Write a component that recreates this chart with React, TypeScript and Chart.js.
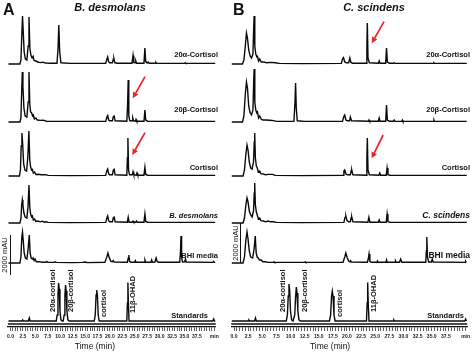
import React, { useEffect, useRef } from 'react';
import { Chart, registerables } from 'chart.js';
Chart.register(...registerables);

type Pt = [number, number]; // [time (min), signal above own baseline (mAU)]

// ---------- axis ticks ----------
const TICK_VALUES = [0, 2.5, 5, 7.5, 10, 12.5, 15, 17.5, 20, 22.5, 25, 27.5, 30, 32.5, 35, 37.5, 41];
const TICK_LABELS = ['0.0', '2.5', '5.0', '7.5', '10.0', '12.5', '15.0', '17.5', '20.0', '22.5', '25.0', '27.5', '30.0', '32.5', '35.0', '37.5', 'min'];

// ---------- trace names ----------
const A_LABELS = ['20α-Cortisol', '20β-Cortisol', 'Cortisol', 'B. desmolans', 'BHI media', 'Standards'];
const B_LABELS = ['20α-Cortisol', '20β-Cortisol', 'Cortisol', 'C. scindens', 'BHI media', 'Standards'];
const STD_PEAK_LABELS = ['20α-cortisol', '20β-cortisol', 'cortisol', '11β-OHAD'];
const SCALE_BAR_LABEL = '2000 mAU';
const SCALE_BAR_VALUE = 2000;

// ---------- panel A : B. desmolans ----------
const A_T20A: Pt[] = [[-0.4,0],[1.9,0],[2.1,200],[2.3,1600],[2.42,2400],[2.55,1700],[2.75,600],[3.0,250],[3.3,200],[3.55,900],[3.72,2350],[3.9,800],[4.1,450],[4.35,300],[4.55,380],[4.75,180],[5.1,150],[5.5,100],[6.0,70],[6.5,90],[7.0,50],[8.0,40],[9.35,40],[9.55,700],[9.72,1950],[9.9,600],[10.15,60],[12.0,30],[15.0,30],[17.5,30],[19.15,30],[19.4,250],[19.55,350],[19.75,120],[19.95,60],[20.5,60],[20.7,250],[20.8,280],[21.0,60],[21.5,40],[24.45,40],[24.65,430],[24.8,80],[25.05,60],[25.2,150],[25.35,40],[26.85,40],[27.04,800],[27.2,120],[27.5,50],[27.7,100],[27.9,40],[29.1,40],[29.25,80],[29.4,30],[35.0,30],[35.15,60],[35.3,30],[41.2,30]];
const A_T20B: Pt[] = [[-0.4,0],[1.9,0],[2.1,200],[2.25,1500],[2.38,2500],[2.5,1800],[2.7,700],[2.95,300],[3.3,250],[3.55,1000],[3.72,2500],[3.88,900],[4.05,500],[4.25,450],[4.45,300],[4.6,350],[4.8,150],[5.1,200],[5.4,100],[6.0,80],[6.6,90],[7.2,40],[9.0,30],[12.5,30],[16,30],[19.15,30],[19.4,250],[19.55,320],[19.75,100],[19.95,60],[20.5,60],[20.7,280],[20.85,300],[21.05,60],[23.4,40],[23.55,800],[23.68,2100],[23.8,300],[24.0,60],[24.45,60],[24.6,200],[24.75,60],[25.1,40],[25.25,130],[25.4,40],[26.85,40],[27.04,600],[27.2,100],[27.6,40],[41.2,30]];
const A_TCORT: Pt[] = [[-0.4,0],[1.8,0],[2.0,300],[2.15,1500],[2.3,2150],[2.45,1600],[2.65,600],[2.9,300],[3.25,250],[3.5,1000],[3.7,2250],[3.88,800],[4.05,450],[4.25,300],[4.4,330],[4.6,150],[4.85,200],[5.1,80],[5.6,90],[6.2,60],[7.0,70],[7.6,30],[12,20],[19.15,30],[19.4,280],[19.55,350],[19.75,120],[19.95,60],[20.5,60],[20.7,300],[20.85,330],[21.05,60],[23.4,40],[23.52,900],[23.62,1900],[23.75,300],[23.95,60],[24.5,60],[24.65,215],[24.8,60],[25.3,40],[25.45,150],[25.6,40],[26.85,40],[27.04,435],[27.2,80],[27.6,40],[41.2,30]];
const A_TSTRAIN: Pt[] = [[-0.4,0],[1.9,0],[2.1,200],[2.25,900],[2.38,1150],[2.5,900],[2.7,500],[2.95,300],[3.3,250],[3.52,800],[3.72,1900],[3.88,800],[4.05,450],[4.25,300],[4.4,350],[4.6,150],[4.85,200],[5.1,80],[5.5,100],[6.0,60],[6.4,90],[6.8,40],[7.2,60],[7.6,30],[12,20],[19.15,30],[19.4,250],[19.55,350],[19.75,120],[19.95,60],[20.5,60],[20.7,280],[20.85,300],[21.05,60],[23.5,40],[23.68,285],[23.85,40],[24.5,40],[24.65,100],[24.8,40],[25.2,40],[25.35,100],[25.5,40],[26.85,40],[27.04,450],[27.2,80],[27.6,40],[41.2,30]];
const A_TBHI: Pt[] = [[-0.4,0],[1.9,0],[2.1,300],[2.28,1300],[2.42,1550],[2.56,1150],[2.75,500],[3.0,250],[3.3,200],[3.55,700],[3.78,1400],[3.95,500],[4.15,250],[4.4,200],[4.55,250],[4.75,120],[4.95,200],[5.2,60],[5.8,70],[6.5,40],[7.1,40],[7.3,80],[7.5,30],[8.8,30],[9.0,60],[9.2,30],[12.5,20],[14.5,30],[15,50],[15.5,20],[19.0,40],[19.35,280],[19.6,500],[19.85,280],[20.2,80],[20.5,60],[20.65,120],[20.85,50],[23.5,40],[23.7,250],[23.82,400],[23.95,80],[24.2,40],[25.0,40],[25.12,120],[25.25,40],[26.9,40],[27.05,150],[27.2,40],[28.25,40],[28.4,150],[28.55,40],[29.05,50],[29.3,250],[29.5,80],[29.8,40],[34.05,40],[34.2,600],[34.3,1350],[34.42,300],[34.6,50],[35.05,60],[35.2,200],[35.35,50],[40.7,30],[40.85,80],[41.0,30],[41.2,30]];
const A_TSTD: Pt[] = [[-0.4,0],[2.3,0],[2.45,60],[2.6,0],[3.6,0],[3.78,150],[3.95,0],[9.2,0],[9.4,300],[9.55,1300],[9.68,1900],[9.8,1600],[9.95,500],[10.15,60],[10.4,0],[10.6,0],[10.8,300],[10.95,1300],[11.08,1800],[11.2,1500],[11.35,500],[11.55,60],[11.8,0],[16.85,0],[17.05,300],[17.22,1300],[17.35,1550],[17.48,1300],[17.65,300],[17.85,0],[23.4,0],[23.52,900],[23.62,1920],[23.72,900],[23.85,0],[40.7,0],[40.88,100],[41.05,0],[41.2,0]];

// ---------- panel B : C. scindens ----------
const B_T20A: Pt[] = [[-0.4,0],[1.5,0],[1.75,200],[2.0,900],[2.2,1550],[2.38,1300],[2.6,700],[2.85,400],[3.1,300],[3.35,500],[3.48,1800],[3.56,2400],[3.68,900],[3.85,500],[4.05,350],[4.15,380],[4.35,150],[4.55,250],[4.8,100],[5.3,100],[5.8,60],[6.5,80],[7.3,60],[8,30],[12,20],[19.0,30],[19.2,250],[19.38,320],[19.6,100],[19.9,60],[20.3,60],[20.5,300],[20.7,80],[21.0,40],[23.4,40],[23.52,900],[23.6,2050],[23.72,300],[23.95,60],[25.55,40],[25.7,150],[25.85,40],[26.85,40],[27.0,800],[27.15,100],[27.5,40],[28.2,40],[28.35,60],[28.5,30],[35.3,30],[35.4,60],[35.5,30],[41.2,30]];
const B_T20B: Pt[] = [[-0.4,0],[1.5,0],[1.75,300],[2.0,1400],[2.2,2000],[2.38,1700],[2.6,800],[2.85,450],[3.1,350],[3.35,600],[3.48,2000],[3.56,2650],[3.68,1000],[3.85,600],[4.05,450],[4.15,500],[4.35,200],[4.55,300],[4.8,150],[5.1,100],[5.6,100],[6.3,90],[7.0,70],[7.5,30],[10.6,30],[10.78,900],[10.9,1950],[11.02,700],[11.2,60],[12.5,30],[19.2,30],[19.45,280],[19.6,350],[19.8,100],[20.1,60],[20.45,60],[20.6,250],[20.8,60],[23.8,40],[23.9,100],[24.0,40],[25.55,40],[25.7,200],[25.85,40],[26.85,40],[27.0,850],[27.15,100],[27.5,40],[28.2,40],[28.35,100],[28.5,30],[29.7,30],[29.8,100],[29.9,30],[35.3,30],[35.4,100],[35.5,30],[41.2,30]];
const B_TCORT: Pt[] = [[-0.4,0],[1.6,0],[1.85,300],[2.1,1100],[2.3,1550],[2.48,1300],[2.7,700],[2.95,400],[3.2,350],[3.45,700],[3.58,1700],[3.66,2150],[3.78,900],[3.95,500],[4.12,400],[4.3,200],[4.55,250],[4.75,120],[5.2,100],[5.6,60],[6.0,80],[6.8,80],[7.3,30],[12,20],[19.3,30],[19.45,250],[19.6,300],[19.8,100],[20.1,60],[20.6,60],[20.75,280],[20.85,300],[21.05,60],[23.4,40],[23.52,900],[23.6,1900],[23.72,300],[23.95,60],[25.65,40],[25.8,150],[25.95,40],[26.95,40],[27.1,400],[27.25,60],[27.6,40],[41.2,30]];
const B_TSTRAIN: Pt[] = [[-0.4,0],[1.6,0],[1.85,250],[2.1,900],[2.3,1250],[2.48,1050],[2.7,600],[2.95,400],[3.2,300],[3.45,600],[3.58,1500],[3.66,2000],[3.78,900],[3.95,550],[4.12,400],[4.3,200],[4.55,250],[4.75,120],[5.2,100],[5.6,60],[6.0,100],[6.5,60],[7.0,60],[7.5,30],[12,20],[19.45,30],[19.65,280],[19.8,350],[20.0,120],[20.3,60],[20.6,60],[20.75,280],[20.85,300],[21.05,60],[23.7,40],[23.88,285],[24.05,40],[25.55,40],[25.7,150],[25.85,40],[26.95,40],[27.1,450],[27.25,70],[27.6,40],[41.2,30]];
const B_TBHI: Pt[] = [[-0.4,0],[1.6,0],[1.85,300],[2.1,1150],[2.3,1550],[2.48,1200],[2.7,600],[2.95,300],[3.3,250],[3.55,700],[3.76,1350],[3.92,500],[4.1,300],[4.3,250],[4.5,150],[4.8,150],[5.1,60],[5.5,60],[6.0,30],[7.0,30],[7.1,60],[7.2,30],[12.5,30],[12.6,60],[12.7,30],[19.3,40],[19.6,300],[19.8,500],[20.05,250],[20.35,80],[20.55,60],[20.65,100],[20.8,50],[23.6,40],[23.8,250],[23.9,450],[24.05,80],[24.3,40],[25.3,40],[25.4,100],[25.5,40],[26.9,40],[27.0,150],[27.1,40],[28.5,40],[28.6,100],[28.7,40],[29.3,40],[29.5,200],[29.7,40],[33.95,40],[34.05,600],[34.13,1300],[34.25,300],[34.45,50],[34.95,50],[35.1,200],[35.25,50],[40.9,30],[41.0,80],[41.1,30],[41.2,30]];
const B_TSTD: Pt[] = [[-0.4,0],[2.5,0],[2.65,50],[2.8,0],[3.65,0],[3.8,150],[3.95,0],[9.25,0],[9.45,300],[9.6,1250],[9.73,1850],[9.85,1550],[10.0,500],[10.2,60],[10.45,0],[10.55,0],[10.75,300],[10.9,1200],[11.03,1700],[11.15,1400],[11.3,500],[11.5,60],[11.75,0],[16.9,0],[17.1,300],[17.27,1250],[17.4,1500],[17.53,1250],[17.7,300],[17.9,0],[23.45,0],[23.57,900],[23.66,1925],[23.76,900],[23.9,0],[28.2,0],[28.3,50],[28.4,0],[40.85,0],[41.0,100],[41.15,0],[41.2,0]];

// standards peak-label positions: [time, bottom value]
const A_STD_LABEL_POS: Pt[] = [[8.5, 750], [12.1, 750], [18.7, 500], [24.6, 700]];
const B_STD_LABEL_POS: Pt[] = [[8.7, 750], [12.5, 750], [18.8, 500], [24.8, 750]];

// red arrows: [tailTime, tailValue, headTime, headValue]
const A_ARROWS: number[][] = [[27.06, 12515, 24.59, 11435], [27.06, 9715, 24.5, 8600]];
const B_ARROWS: number[][] = [[26.55, 15265, 24.37, 14185], [26.4, 9600, 24.37, 8435]];

// ---------- layout ----------
const TRACE_OFFSETS = [13150, 10250, 7550, 5200, 3200, 300];
const LABEL_DY = [-9, -12, -8, -7, -7, -5];
const Y_MAX = 16100;
const X_MIN = -0.5;
const X_MAX = 41.3;
const FONT = '"Liberation Sans", Arial, Helvetica, sans-serif';

const PANELS = [
  {
    letter: 'A', title: 'B. desmolans', labels: A_LABELS,
    traces: [A_T20A, A_T20B, A_TCORT, A_TSTRAIN, A_TBHI, A_TSTD],
    stdPos: A_STD_LABEL_POS, arrows: A_ARROWS,
    left: 0, width: 224, padLeft: 8, padRight: 8.2,
    letterX: 3, titleX: 110, labelRight: 218, stdLabelRight: 208,
    labelSizes: [7.5, 7.5, 7.5, 7.5, 7.5, 7.5],
    barX: 10.5, barTextX: 5, barLo: 2600,
  },
  {
    letter: 'B', title: 'C. scindens', labels: B_LABELS,
    traces: [B_T20A, B_T20B, B_TCORT, B_TSTRAIN, B_TBHI, B_TSTD],
    stdPos: B_STD_LABEL_POS, arrows: B_ARROWS,
    left: 224, width: 250, padLeft: 7.2, padRight: 6.7,
    letterX: 9, titleX: 150, labelRight: 246, stdLabelRight: 240,
    labelSizes: [7.5, 7.5, 7.5, 8.5, 8.5, 7.5],
    barX: 16.5, barTextX: 12, barLo: 3200,
  },
];

type PanelCfg = typeof PANELS[number];

function makeDecor(p: PanelCfg) {
  return {
    id: 'decor' + p.letter,
    afterDraw(chart: any) {
      const { ctx, chartArea } = chart;
      const xs = chart.scales.x;
      const ys = chart.scales.y;
      ctx.save();
      // second axis line
      ctx.strokeStyle = '#111';
      ctx.lineWidth = 1.3;
      ctx.beginPath();
      ctx.moveTo(chartArea.left, chartArea.bottom - 3);
      ctx.lineTo(chartArea.right, chartArea.bottom - 3);
      ctx.stroke();

      ctx.fillStyle = '#111';
      // panel letter
      ctx.font = `bold 16px ${FONT}`;
      ctx.textAlign = 'left';
      ctx.textBaseline = 'alphabetic';
      ctx.fillText(p.letter, p.letterX, 15);
      // panel title
      ctx.font = `italic bold 11px ${FONT}`;
      ctx.textAlign = 'center';
      ctx.textBaseline = 'middle';
      ctx.fillText(p.title, p.titleX, 8);

      // trace labels
      p.labels.forEach((lab, i) => {
        const isStrain = i === 3;
        ctx.font = `${isStrain ? 'italic ' : ''}bold ${p.labelSizes[i]}px ${FONT}`;
        ctx.textAlign = 'right';
        ctx.textBaseline = 'middle';
        const y = ys.getPixelForValue(TRACE_OFFSETS[i]) + LABEL_DY[i];
        ctx.fillText(lab, i === 5 ? p.stdLabelRight : p.labelRight, y);
      });

      // standard peak labels (rotated)
      ctx.font = `bold 7.5px ${FONT}`;
      STD_PEAK_LABELS.forEach((lab, i) => {
        const [t, v] = p.stdPos[i];
        ctx.save();
        ctx.translate(xs.getPixelForValue(t), ys.getPixelForValue(v));
        ctx.rotate(-Math.PI / 2);
        ctx.textAlign = 'left';
        ctx.textBaseline = 'middle';
        ctx.fillText(lab, 0, 0);
        ctx.restore();
      });

      // scale bar
      const yLo = ys.getPixelForValue(p.barLo);
      const yHi = ys.getPixelForValue(p.barLo + SCALE_BAR_VALUE);
      ctx.lineWidth = 1;
      ctx.beginPath();
      ctx.moveTo(p.barX, yLo);
      ctx.lineTo(p.barX, yHi);
      ctx.stroke();
      ctx.save();
      ctx.translate(p.barTextX, (yLo + yHi) / 2);
      ctx.rotate(-Math.PI / 2);
      ctx.font = `7.5px ${FONT}`;
      ctx.textAlign = 'center';
      ctx.textBaseline = 'middle';
      ctx.fillText(SCALE_BAR_LABEL, 0, 0);
      ctx.restore();

      // axis title
      ctx.font = `8.5px ${FONT}`;
      ctx.textAlign = 'center';
      ctx.textBaseline = 'middle';
      ctx.fillStyle = '#111';
      ctx.fillText('Time (min)', xs.getPixelForValue(17), 347);

      // arrows
      ctx.strokeStyle = '#e3262b';
      ctx.fillStyle = '#e3262b';
      ctx.lineWidth = 1.7;
      p.arrows.forEach(([t0, v0, t1, v1]) => {
        const x0 = xs.getPixelForValue(t0), y0 = ys.getPixelForValue(v0);
        const x1 = xs.getPixelForValue(t1), y1 = ys.getPixelForValue(v1);
        const ang = Math.atan2(y1 - y0, x1 - x0);
        const hl = 6, hw = 3;
        const bx = x1 - hl * Math.cos(ang), by = y1 - hl * Math.sin(ang);
        ctx.beginPath();
        ctx.moveTo(x0, y0);
        ctx.lineTo(bx, by);
        ctx.stroke();
        ctx.beginPath();
        ctx.moveTo(x1, y1);
        ctx.lineTo(bx + hw * Math.sin(ang), by - hw * Math.cos(ang));
        ctx.lineTo(bx - hw * Math.sin(ang), by + hw * Math.cos(ang));
        ctx.closePath();
        ctx.fill();
      });
      ctx.restore();
    },
  };
}

function Panel({ cfg }: { cfg: PanelCfg }) {
  const ref = useRef<HTMLCanvasElement>(null);
  useEffect(() => {
    const canvas = ref.current!;
    const allTicks: number[] = [];
    for (let i = 0; i <= 82; i++) allTicks.push(i * 0.5);
    const chart = new Chart(canvas, {
      type: 'line',
      data: {
        datasets: cfg.traces.map((tr, i) => ({
          label: cfg.labels[i],
          data: tr.map(([t, h]) => ({ x: t, y: TRACE_OFFSETS[i] + h })),
          borderColor: '#0a0a0a',
          borderWidth: 1.4,
          pointRadius: 0,
          tension: 0,
          fill: false,
        })),
      },
      options: {
        responsive: false,
        maintainAspectRatio: false,
        animation: false,
        devicePixelRatio: 1,
        layout: { padding: { left: cfg.padLeft, right: cfg.padRight, top: 5, bottom: 0 } },
        plugins: { legend: { display: false }, tooltip: { enabled: false }, title: { display: false } },
        scales: {
          x: {
            type: 'linear',
            min: X_MIN,
            max: X_MAX,
            afterBuildTicks: (s: any) => { s.ticks = allTicks.map((v) => ({ value: v })); },
            afterFit: (s: any) => { s.height = 28; },
            ticks: {
              autoSkip: false,
              maxRotation: 0,
              minRotation: 0,
              padding: 3,
              color: '#222',
              font: { size: 5, family: FONT, weight: 'bold' },
              callback: (v: any) => {
                const idx = TICK_VALUES.indexOf(Number(v));
                return idx >= 0 ? TICK_LABELS[idx] : '';
              },
            },
            grid: { drawOnChartArea: false, drawTicks: true, tickLength: 4, color: '#333', lineWidth: 0.8 },
            border: { display: true, color: '#111', width: 1.3 },
          },
          y: { type: 'linear', display: false, min: 0, max: Y_MAX },
        },
      },
      plugins: [makeDecor(cfg)],
    } as any);
    return () => chart.destroy();
  }, [cfg]);
  return (
    <canvas
      ref={ref}
      width={cfg.width}
      height={355}
      style={{ position: 'absolute', left: cfg.left, top: 0, width: cfg.width, height: 355 }}
    />
  );
}

export default function App() {
  return (
    <div style={{ position: 'fixed', left: 0, top: 0, width: 474, height: 355, background: '#fff', overflow: 'hidden' }}>
      {PANELS.map((p) => (
        <Panel key={p.letter} cfg={p} />
      ))}
    </div>
  );
}
